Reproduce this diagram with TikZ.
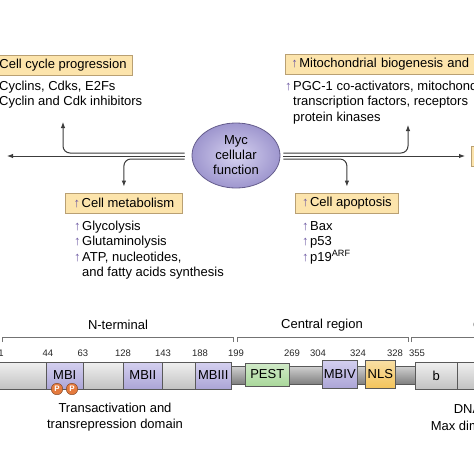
\documentclass[tikz,border=0pt]{standalone}
\usepackage{fontspec}
\setmainfont{Liberation Sans}
\usetikzlibrary{arrows.meta,shapes.geometric}
\definecolor{boxfill}{RGB}{252,228,172}
\definecolor{boxline}{RGB}{185,160,115}
\definecolor{upc}{RGB}{105,85,160}
\definecolor{mycin}{RGB}{214,210,240}
\definecolor{mycout}{RGB}{158,150,206}
\definecolor{mycline}{RGB}{100,92,140}
\definecolor{mbtop}{RGB}{212,208,240}
\definecolor{mbbot}{RGB}{172,165,214}
\definecolor{pest}{RGB}{170,216,155}
\definecolor{nls}{RGB}{243,196,92}
\definecolor{pho}{RGB}{228,122,62}
\definecolor{wire}{RGB}{60,60,60}
\newcommand{\bodyfont}{\fontsize{13}{15.3}\selectfont}
\newcommand{\upm}{\llap{\color{upc}\bfseries↑\hspace{1.5pt}}}
\newcommand{\uphead}{{\color{upc}\bfseries↑}\hspace{1.5pt}}
\tikzset{
  fbox/.style={draw=boxline,fill=boxfill,line width=0.8pt,minimum height=20pt,inner xsep=6pt,inner ysep=0pt,font=\bodyfont},
  flist/.style={anchor=base west,align=left,inner sep=0pt,font=\bodyfont},
  myc/.style={ellipse,draw=mycline,line width=0.8pt,inner color=mycin,outer color=mycout,minimum width=88pt,minimum height=65pt,inner sep=0pt,align=center,font=\fontsize{13}{15}\selectfont},
  link/.style={draw=wire,line width=1pt,rounded corners=7pt,-{Latex[length=6pt,width=4.5pt]}},
  seg/.style={draw=black!65,line width=0.6pt,inner sep=0pt,anchor=west,font=\bodyfont},
  lite/.style={seg,top color=black!6,bottom color=black!24,minimum height=27pt},
  mb/.style={seg,top color=mbtop,bottom color=mbbot,minimum height=27pt},
  core/.style={seg,top color=black!18,bottom color=black!50,minimum height=18pt},
  pestbox/.style={seg,top color=pest!55!white,bottom color=pest,minimum height=23pt},
  nlsbox/.style={seg,top color=nls!55!white,bottom color=nls,minimum height=28pt},
  pnode/.style={circle,draw=pho!55!black,fill=pho,inner sep=0pt,minimum size=11.5pt,font=\fontsize{8}{8}\selectfont\bfseries,text=white},
  numlabel/.style={font=\fontsize{9.5}{11}\selectfont,inner sep=0pt,text=black!85},
  region/.style={font=\bodyfont,inner sep=0pt},
  bracket/.style={draw=black!55,line width=0.7pt},
  domtext/.style={align=center,inner sep=0pt,font=\fontsize{13}{16.7}\selectfont},
}
\begin{document}
\begin{tikzpicture}[x=1pt,y=-1pt]
  \useasboundingbox (0,0) rectangle (474,474);
  \clip (0,0) rectangle (474,474);
  \node[myc] (myc) at (236,155.5) {Myc\\cellular\\function};
  \node[fbox,anchor=east] (cycle) at (133,65) {Cell cycle progression};
  \node[flist] (cyclelist) at (-1,105.5) {Cyclins, Cdks, E2Fs\\Cyclin and Cdk inhibitors};
  \node[fbox,anchor=west,text width=210pt,align=left] (mito) at (285,64.5) {\uphead Mitochondrial biogenesis and};
  \node[flist] (mitolist) at (293,121) {\upm PGC-1 co-activators, mitochondrial\\transcription factors, receptors\\protein kinases};
  \node[fbox,anchor=west,minimum width=117pt] (metab) at (65,203) {\uphead Cell metabolism};
  \node[flist] (metablist) at (82,276.5) {\upm Glycolysis\\\upm Glutaminolysis\\\upm ATP, nucleotides,\\and fatty acids synthesis};
  \node[fbox,anchor=west,minimum width=103pt] (apop) at (295,203) {\uphead Cell apoptosis};
  \node[flist] (apoplist) at (310,261) {\upm Bax\\\upm p53\\\upm p19\textsuperscript{ARF}};
  \node[fbox,anchor=west,minimum width=40pt] (rbox) at (471,156) {};
  \coordinate (cycletip) at (63,122);
  \coordinate (lefttip) at (7,156);
  \coordinate (mitotip) at (408,125);
  \draw[link] ([shift={(-7,-2.5)}]myc.west) -| (cycletip);
  \draw[link] ([shift={(-7,0.5)}]myc.west) -- (lefttip);
  \draw[link,shorten >=6pt] ([shift={(-7,3.5)}]myc.west) -| (metab.north);
  \draw[link] ([shift={(3,-2.5)}]myc.east) -| (mitotip);
  \draw[link,shorten >=6pt] ([shift={(3,0.5)}]myc.east) -- (rbox.west);
  \draw[link,shorten >=6pt] ([shift={(3,3.5)}]myc.east) -| (apop.north);
  % protein bar
  \node[region] (nterm) at (118,325) {N-terminal};
  \node[region] (central) at (322,325) {Central region};
  \node[region] (cterm) at (503,325) {C-terminal};
  \draw[bracket] (2,342) |- (233,337) -- (233,342);
  \draw[bracket] (237,342) |- (408,337) -- (408,342);
  \draw[bracket] (411,342) |- (540,337);
  \foreach \x/\n in {1/1,48/44,83/63,123/128,163/143,200/188,236/199,292/269,318/304,358/324,395/328,417/355}
    \node[numlabel] (num\n) at (\x,353) {\n};
  \node[core,minimum width=200pt] (core) at (225,375) {};
  \foreach \a/\b/\s/\t [count=\i] in {-10/46/lite/{},46/83/mb/MBI,83/123/lite/{},123/162/mb/MBII,162/195/lite/{},195/231/mb/MBIII}
    \node[\s,minimum width={(\b-\a)*1pt}] (nt\i) at (\a,375.5) {\t};
  \node[pestbox,minimum width=44pt] (pestseg) at (245,374.5) {PEST};
  \node[mb,minimum width=35pt,minimum height=28pt] (mbiv) at (322,374) {MBIV};
  \node[nlsbox,minimum width=30pt] (nlsseg) at (365,374) {NLS};
  \node[lite,minimum width=42pt] (bseg) at (415,375.5) {b};
  \node[lite,minimum width=60pt] (hseg) at (457,375.5) {};
  \node[pnode] (p1) at (57,389) {P};
  \node[pnode] (p2) at (72,389) {P};
  \node[domtext] (tad) at (115,417) {Transactivation and\\transrepression domain};
  \node[domtext] (dbd) at (503,417) {DNA binding and\\Max dimerization domain};
\end{tikzpicture}
\end{document}
